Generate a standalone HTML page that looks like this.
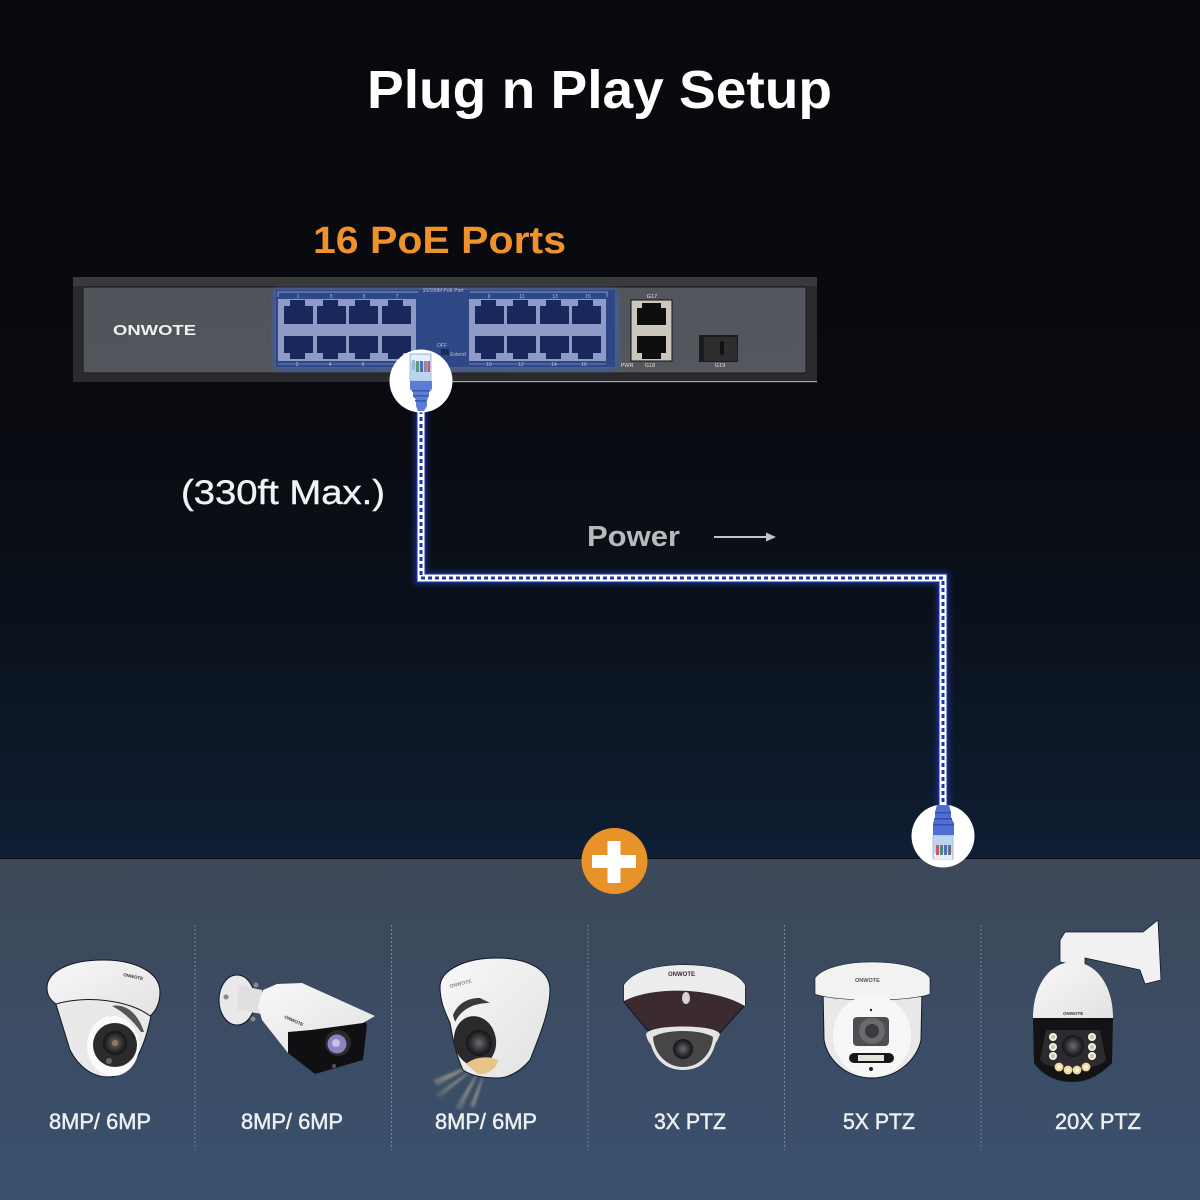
<!DOCTYPE html>
<html><head><meta charset="utf-8"><style>html,body{margin:0;padding:0;background:#000}svg{display:block}text{font-family:"Liberation Sans",sans-serif}</style></head><body>
<svg xmlns="http://www.w3.org/2000/svg" width="1200" height="1200" viewBox="0 0 1200 1200">
<defs>
<linearGradient id="bg" x1="0" y1="0" x2="0" y2="1"><stop offset="0" stop-color="#08090c"/><stop offset=".5" stop-color="#090b11"/><stop offset=".72" stop-color="#0a111b"/><stop offset="1" stop-color="#0f1e33"/></linearGradient>
<linearGradient id="pn" x1="0" y1="0" x2="0" y2="1"><stop offset="0" stop-color="#3d4858"/><stop offset="1" stop-color="#3a506f"/></linearGradient>
<linearGradient id="ray" x1="1" y1="0" x2="0" y2="1"><stop offset="0" stop-color="#f3d9ae" stop-opacity=".9"/><stop offset=".8" stop-color="#f3d9ae" stop-opacity=".1"/><stop offset="1" stop-color="#f3d9ae" stop-opacity="0"/></linearGradient>
<linearGradient id="wht" x1="0" y1="0" x2="1" y2="1"><stop offset="0" stop-color="#f8f8f8"/><stop offset="1" stop-color="#e2e2e2"/></linearGradient>
<linearGradient id="plate" x1="0" y1="0" x2="1" y2="1"><stop offset="0" stop-color="#505359"/><stop offset="1" stop-color="#54585e"/></linearGradient>
<radialGradient id="len" cx=".5" cy=".5" r=".5"><stop offset="0" stop-color="#6b6b70"/><stop offset=".7" stop-color="#2a2a2c"/><stop offset="1" stop-color="#141416"/></radialGradient>
<filter id="gl" x="-20%" y="-20%" width="140%" height="140%"><feGaussianBlur stdDeviation="3"/></filter>
<filter id="b1" x="-30%" y="-30%" width="160%" height="160%"><feGaussianBlur stdDeviation="1.2"/></filter>
<path id="pt" d="M0,24V6H6V0H21V6H29V24Z" fill="#18275c"/>
<path id="pb" d="M0,0V17H6V23H21V17H29V0Z" fill="#18275c"/>
<g id="led"><circle r="4" fill="#f3efe2"/><circle r="2" fill="#c9c3a8"/></g>
<g id="ledw"><circle r="4.4" fill="#f2d9a4"/><circle r="2" fill="#fff3d6"/></g>
</defs>
<rect width="1200" height="859" fill="url(#bg)"/>
<rect y="859" width="1200" height="341" fill="url(#pn)"/>
<rect y="858" width="1200" height="1" fill="#0a0f18"/>

<text x="367" y="108" font-size="54" font-weight="700" fill="#fff" textLength="465" lengthAdjust="spacingAndGlyphs">Plug n Play Setup</text>
<text x="313" y="253" font-size="38" font-weight="700" fill="#f0922c" textLength="253" lengthAdjust="spacingAndGlyphs">16 PoE Ports</text>
<text x="181" y="504" font-size="34" fill="#f2f2f2" stroke="#f2f2f2" stroke-width=".4" textLength="204" lengthAdjust="spacingAndGlyphs">(330ft Max.)</text>
<text x="587" y="546" font-size="29" font-weight="700" fill="#b9b9bb" textLength="93" lengthAdjust="spacingAndGlyphs">Power</text>
<rect x="714" y="536" width="52" height="2" fill="#c4c4c4"/><path d="M766,532.5L776,537L766,541.5Z" fill="#c4c4c4"/>

<!-- switch -->
<rect x="73" y="277" width="744" height="105" fill="#2b2b2d"/>
<rect x="73" y="277" width="744" height="9" fill="#3a3a3c"/>
<rect x="390" y="381" width="427" height="1.2" fill="#a9a9a9"/>
<rect x="83" y="287" width="723" height="86" rx="2" fill="url(#plate)" stroke="#1a1a1c" stroke-width="1"/>
<rect x="274" y="289" width="343" height="80" rx="2" fill="#3a62c8" filter="url(#gl)" opacity=".85"/>
<rect x="276" y="290" width="339" height="77" fill="#2e4785"/>
<rect x="278" y="299" width="138" height="62" fill="#8f9bc6"/>
<rect x="469" y="299" width="137" height="62" fill="#8f9bc6"/>
<path d="M278,297V292H418M470,292H607V297" fill="none" stroke="#8a9ad0" stroke-width="1"/>
<path d="M278,364H416M469,364H606" fill="none" stroke="#6a7dc0" stroke-width="1"/>
<g fill="#b9c2df" font-size="5" text-anchor="middle">
<text x="298" y="298">1</text><text x="331" y="298">3</text><text x="364" y="298">5</text><text x="397" y="298">7</text>
<text x="489" y="298">9</text><text x="522" y="298">11</text><text x="555" y="298">13</text><text x="588" y="298">15</text>
<text x="297" y="366">2</text><text x="330" y="366">4</text><text x="363" y="366">6</text>
<text x="489" y="366">10</text><text x="521" y="366">12</text><text x="554" y="366">14</text><text x="584" y="366">16</text>
<text x="443" y="292">10/100M PoE Port</text><text x="442" y="347">OFF</text><text x="458" y="356">Extend</text>
</g>
<rect x="441" y="349" width="8" height="6" fill="#1c2a55"/>
<g>
<use href="#pt" x="284" y="300"/><use href="#pt" x="317" y="300"/><use href="#pt" x="349" y="300"/><use href="#pt" x="382" y="300"/>
<use href="#pb" x="284" y="336"/><use href="#pb" x="317" y="336"/><use href="#pb" x="349" y="336"/><use href="#pb" x="382" y="336"/>
<use href="#pt" x="475" y="300"/><use href="#pt" x="507" y="300"/><use href="#pt" x="540" y="300"/><use href="#pt" x="572" y="300"/>
<use href="#pb" x="475" y="336"/><use href="#pb" x="507" y="336"/><use href="#pb" x="540" y="336"/><use href="#pb" x="572" y="336"/>
</g>
<rect x="631" y="300" width="41" height="61" fill="#cbc7bd" stroke="#111" stroke-width="1"/>
<path d="M637,325V308H642V303H661V308H666V325Z" fill="#0e0e10"/>
<path d="M637,336V353H642V359H661V353H666V336Z" fill="#0e0e10"/>
<g fill="#e2e2e2" font-size="5.5" text-anchor="middle"><text x="652" y="298">G17</text><text x="650" y="367">G18</text><text x="627" y="367">PWR</text><text x="720" y="367">G19</text></g>
<rect x="699" y="335" width="39" height="27" fill="#1c1c1e"/><rect x="704" y="337" width="33" height="24" fill="#2e2e30"/><rect x="720" y="341" width="4" height="14" rx="2" fill="#111"/>
<text x="113" y="335" font-size="15" font-weight="700" fill="#f0f0f0" textLength="83" lengthAdjust="spacingAndGlyphs">ONWOTE</text>

<!-- cable -->
<path d="M421,410V578H943V806" fill="none" stroke="#2a49e0" stroke-width="13" opacity=".45" filter="url(#gl)"/>
<path d="M421,410V578H943V806" fill="none" stroke="#1a2f9c" stroke-width="9.5"/>
<path d="M421,410V578H943V806" fill="none" stroke="#fff" stroke-width="7"/>
<path d="M421,410V578H943V806" fill="none" stroke="#1f35b4" stroke-width="3" stroke-dasharray="4 3"/>

<!-- connector top -->
<circle cx="421" cy="381" r="31.5" fill="#fff"/>
<path d="M410,354H431V381H410Z" fill="#bcd4ef" stroke="#a9c0e6" stroke-width="1"/>
<rect x="411" y="355" width="19" height="7" fill="#e9eef6"/>
<g><rect x="412" y="360" width="3" height="10" fill="#9ab8d8"/><rect x="416" y="361" width="3" height="11" fill="#5a9a78"/><rect x="420" y="361" width="3" height="11" fill="#4c6fb5"/><rect x="424" y="361" width="3" height="11" fill="#8c88a8"/><rect x="427.500" y="361" width="2.500" height="11" fill="#d0546a"/></g>
<path d="M410,381H432V389L429,392V396L427,400V406L424,411H418L416,406V400L413,396V392L410,389Z" fill="#5c7cd6"/>
<g fill="#3c58ad"><rect x="412" y="390" width="18" height="1.6"/><rect x="413" y="395" width="15" height="1.6"/><rect x="415" y="400" width="11" height="1.6"/></g>
<!-- connector bottom -->
<circle cx="943" cy="836" r="31.5" fill="#fff"/>
<path d="M933,835H953V859H933Z" fill="#bcd4ef" stroke="#a9c0e6" stroke-width="1"/>
<rect x="934" y="853" width="18" height="6" fill="#e9eef6"/>
<g><rect x="936" y="845" width="3" height="10" fill="#d0546a"/><rect x="940" y="845" width="3" height="10" fill="#4c8a78"/><rect x="944" y="845" width="3" height="10" fill="#4c6fb5"/><rect x="948" y="845" width="3" height="10" fill="#6e6a78"/></g>
<path d="M937,805H949L951,812V818L954,823V835H933V823L935,818V812Z" fill="#4f70d2"/>
<g fill="#3553ad"><rect x="935" y="812" width="16" height="1.6"/><rect x="934" y="818" width="18" height="1.6"/><rect x="933" y="824" width="21" height="1.6"/></g>

<!-- plus -->
<circle cx="614.500" cy="861" r="33" fill="#e8922a"/>
<path d="M607.500,841H620.500V855H636V868H620.500V883H607.500V868H592V855H607.500Z" fill="#fff"/>

<!-- dividers -->
<g stroke="#74839a" stroke-width="1" stroke-dasharray="2 2"><path d="M195,925V1150M391.500,925V1150M588,925V1150M784.500,925V1150M981,925V1150"/></g>

<!-- cam 1 -->
<g>
<path d="M50,985L70,1050C78,1066 92,1077 108,1077C132,1077 148,1050 156,985Z" fill="#e9e9e9" stroke="#0f1726" stroke-width="1"/>
<path d="M47,988C47,970 72,960 103,960C135,960 160,972 160,992C160,1004 155,1012 150,1016C130,1000 85,995 56,1004C50,1000 47,994 47,988Z" fill="url(#wht)" stroke="#0f1726" stroke-width="1"/>
<path d="M112,1006C125,1003 138,1013 144,1032L141,1032C134,1022 124,1012 112,1006Z" fill="#555"/>
<ellipse cx="113" cy="1046" rx="26" ry="30" fill="#fafafa"/>
<circle cx="115" cy="1045" r="22" fill="#2b2b2d"/>
<circle cx="115" cy="1043" r="12" fill="url(#len)"/><circle cx="115" cy="1043" r="3" fill="#9a7a4a"/>
<circle cx="109" cy="1061" r="3" fill="#666"/>
<text x="123" y="976" font-size="4.500" font-weight="700" fill="#333" transform="rotate(12 123 976)">ONWOTE</text>
</g>
<!-- cam 2 -->
<g>
<ellipse cx="237" cy="1000" rx="18" ry="25" fill="#e9e9e9" stroke="#0f1726" stroke-width="1"/>
<path d="M238,985L262,990L262,1014L238,1010Z" fill="#e0e0e0"/>
<circle cx="226" cy="997" r="2.500" fill="#888"/><circle cx="253" cy="1019" r="2.500" fill="#888"/><circle cx="256" cy="985" r="2.500" fill="#888"/>
<path d="M288,1032L363,1017L367,1025L363,1060L315,1074L288,1053Z" fill="#101012"/>
<path d="M263,990L277,984L302,983L375,1016L363,1023L311,1030L288,1032L288,1053L262,1020L258,1006Z" fill="url(#wht)"/>
<circle cx="338" cy="1043" r="13" fill="#2a2a2e"/><circle cx="337" cy="1044" r="9.500" fill="#8d83c0"/><circle cx="336" cy="1043" r="4" fill="#c9bfe6"/>
<circle cx="334" cy="1066" r="2" fill="#555"/>
<text x="284" y="1018" font-size="4.500" font-weight="700" fill="#333" transform="rotate(24 284 1018)">ONWOTE</text>
</g>
<!-- cam 3 -->
<g>
<path d="M470,1066L433,1080L437,1086ZM472,1070L436,1094L440,1098ZM478,1072L455,1108L461,1110ZM484,1074L470,1106L474,1108Z" fill="url(#ray)" filter="url(#b1)"/>
<path d="M440,987C440,970 465,958 497,958C528,958 550,970 550,990C550,1010 540,1035 530,1060C520,1072 508,1078 497,1078C480,1078 470,1075 463,1070C456,1055 453,1040 450,1023C444,1010 440,1000 440,987Z" fill="url(#wht)" stroke="#0f1726" stroke-width="1"/>
<path d="M453,1015C458,1003 468,998 480,998L490,1003C475,1003 462,1008 455,1022Z" fill="#3a3a3c"/>
<ellipse cx="475" cy="1041" rx="21" ry="25" transform="rotate(-10 475 1041)" fill="#2a2a2c"/>
<circle cx="479" cy="1043" r="13" fill="url(#len)"/>
<path d="M466,1064C475,1056 490,1056 498,1060C497,1070 485,1075 478,1074Z" fill="#e6c48a"/>
<text x="450" y="988" font-size="5" font-weight="700" fill="#888" transform="rotate(-14 450 988)">ONWOTE</text>
</g>
<!-- cam 4 -->
<g>
<path d="M624,985C632,972 655,965 684,965C714,965 738,972 745,985V1005L720,1033L647,1030L624,1002Z" fill="#3b2b30" stroke="#0f1726" stroke-width="1"/>
<path d="M624,985C632,972 655,965 684,965C714,965 738,972 745,985V1006C715,988 655,985 624,1001Z" fill="#ededed"/>
<path d="M646,1034C650,1024 716,1024 720,1034C718,1040 716,1042 715,1045C710,1062 698,1070 683,1070C668,1070 656,1062 651,1045C649,1042 647,1040 646,1034Z" fill="#e4e4e4"/>
<path d="M653,1037C665,1029 701,1029 713,1037C712,1054 699,1067 683,1067C667,1067 654,1054 653,1037Z" fill="#464648"/>
<circle cx="683" cy="1049" r="10" fill="url(#len)"/>
<ellipse cx="686" cy="998" rx="4" ry="6" fill="#d5d5d5"/>
<text x="668" y="976" font-size="6" font-weight="700" fill="#333">ONWOTE</text>
</g>
<!-- cam 5 -->
<g>
<path d="M823,990H922L921,1040C916,1062 895,1078 872,1078C848,1078 828,1062 824,1040Z" fill="#e9e9e9" stroke="#0f1726" stroke-width="1"/>
<path d="M815,978C822,968 845,962 872,962C900,962 924,968 930,978V994C910,1002 835,1002 815,994Z" fill="#f2f2f2" stroke="#0f1726" stroke-width=".6"/>
<ellipse cx="872" cy="1036" rx="39" ry="41" fill="#f7f7f7"/>
<rect x="853" y="1017" width="36" height="29" rx="4" fill="#4d4e52"/><circle cx="872" cy="1031" r="13" fill="#6a6a6e"/><circle cx="872" cy="1031" r="7" fill="#3a3a3d"/>
<rect x="849" y="1053" width="45" height="10" rx="5" fill="#181818"/><rect x="858" y="1055" width="26" height="6" fill="#e5e2d6"/>
<circle cx="871" cy="1069" r="2" fill="#222"/><circle cx="871" cy="1010" r="1.200" fill="#222"/>
<text x="855" y="982" font-size="5.500" font-weight="700" fill="#555">ONWOTE</text>
</g>
<!-- cam 6 -->
<g>
<path d="M1060,962V940L1065,932H1143L1158,920L1161,980L1145,984L1140,970L1085,958V967Z" fill="#f1f1f1" stroke="#0f1726" stroke-width=".8"/>
<path d="M1033,1018C1033,985 1050,962 1073,962C1096,962 1113,985 1113,1018Z" fill="url(#wht)"/>
<path d="M1033,1018H1113L1112,1063C1100,1075 1088,1082 1072,1082C1056,1082 1042,1075 1034,1063Z" fill="#131315"/>
<path d="M1046,1030H1100L1106,1060C1096,1072 1050,1072 1040,1060Z" fill="#2c2c30"/>
<circle cx="1073" cy="1046" r="11" fill="url(#len)"/>
<use href="#led" x="1053" y="1037"/><use href="#led" x="1053" y="1047"/><use href="#led" x="1053" y="1056"/>
<use href="#led" x="1092" y="1037"/><use href="#led" x="1092" y="1047"/><use href="#led" x="1092" y="1056"/>
<use href="#ledw" x="1059" y="1067"/><use href="#ledw" x="1068" y="1070"/><use href="#ledw" x="1077" y="1070"/><use href="#ledw" x="1086" y="1067"/>
<text x="1063" y="1015" font-size="4.500" font-weight="700" fill="#333">ONWOTE</text>
</g>

<!-- labels -->
<g font-size="22" fill="#eceef1" font-weight="400" stroke="#eceef1" stroke-width=".5">
<text x="49" y="1129" textLength="102" lengthAdjust="spacingAndGlyphs">8MP/ 6MP</text>
<text x="241" y="1129" textLength="102" lengthAdjust="spacingAndGlyphs">8MP/ 6MP</text>
<text x="435" y="1129" textLength="102" lengthAdjust="spacingAndGlyphs">8MP/ 6MP</text>
<text x="654" y="1129" textLength="72" lengthAdjust="spacingAndGlyphs">3X PTZ</text>
<text x="843" y="1129" textLength="72" lengthAdjust="spacingAndGlyphs">5X PTZ</text>
<text x="1055" y="1129" textLength="86" lengthAdjust="spacingAndGlyphs">20X PTZ</text>
</g>
</svg>
</body></html>
